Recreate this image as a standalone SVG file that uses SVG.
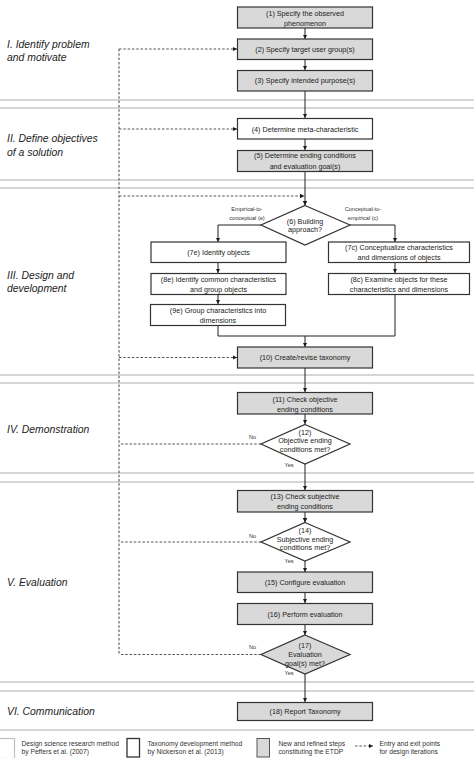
<svg xmlns="http://www.w3.org/2000/svg" width="474" height="758" viewBox="0 0 474 758">
<defs>
<marker id="ah" viewBox="0 0 10 10" refX="10" refY="5" markerWidth="4.5" markerHeight="4.5" orient="auto" markerUnits="userSpaceOnUse"><path d="M0,0 L10,5 L0,10 z" fill="#1a1a1a"/></marker>
<style>
.sep{stroke:#c8c8c8;stroke-width:1.3;fill:none}
.g{fill:#d9d9d9;stroke:#333;stroke-width:1.2}
.w{fill:#ffffff;stroke:#333;stroke-width:1.2}
.t{font-family:"Liberation Sans",Arial,sans-serif;font-size:7.2px;fill:#222;text-anchor:middle}
.s{font-family:"Liberation Sans",Arial,sans-serif;font-size:5.6px;fill:#333;text-anchor:middle}
.lab{font-family:"Liberation Sans",Arial,sans-serif;font-size:10.4px;font-style:italic;fill:#222}
.lg{font-family:"Liberation Sans",Arial,sans-serif;font-size:6.7px;fill:#333}
.c{stroke:#222;stroke-width:1;fill:none}
.d{stroke:#555;stroke-width:1.1;stroke-dasharray:2.5,1.8;fill:none}
</style>
</defs>
<rect x="0" y="0" width="474" height="758" fill="#ffffff"/>
<g id="separators">
<line class="sep" x1="0" y1="100" x2="474" y2="100"/><line class="sep" x1="0" y1="108" x2="474" y2="108"/>
<line class="sep" x1="0" y1="180" x2="474" y2="180"/><line class="sep" x1="0" y1="188" x2="474" y2="188"/>
<line class="sep" x1="0" y1="375" x2="474" y2="375"/><line class="sep" x1="0" y1="383" x2="474" y2="383"/>
<line class="sep" x1="0" y1="473" x2="474" y2="473"/><line class="sep" x1="0" y1="482" x2="474" y2="482"/>
<line class="sep" x1="0" y1="682" x2="474" y2="682"/><line class="sep" x1="0" y1="691" x2="474" y2="691"/>
<line class="sep" x1="0" y1="730" x2="474" y2="730"/>
</g>
<g id="phase-labels">
<text class="lab" x="7" y="48">I. Identify problem</text><text class="lab" x="7" y="61">and motivate</text>
<text class="lab" x="7" y="142">II. Define objectives</text><text class="lab" x="7" y="155.5">of a solution</text>
<text class="lab" x="7" y="278.5">III. Design and</text><text class="lab" x="7" y="292">development</text>
<text class="lab" x="7" y="432.5">IV. Demonstration</text>
<text class="lab" x="7" y="586">V. Evaluation</text>
<text class="lab" x="7" y="715">VI. Communication</text>
</g>
<g id="connectors">
<line class="c" x1="305" y1="28" x2="305" y2="39" marker-end="url(#ah)"/>
<line class="c" x1="305" y1="59" x2="305" y2="70" marker-end="url(#ah)"/>
<line class="c" x1="305" y1="91" x2="305" y2="118" marker-end="url(#ah)"/>
<line class="c" x1="305" y1="139" x2="305" y2="150" marker-end="url(#ah)"/>
<line class="c" x1="305" y1="171.5" x2="305" y2="205.5" marker-end="url(#ah)"/>
<polyline class="c" points="261,225 218,225 218,242" marker-end="url(#ah)"/>
<polyline class="c" points="350,225 395,225 395,242" marker-end="url(#ah)"/>
<line class="c" x1="218" y1="262.5" x2="218" y2="273" marker-end="url(#ah)"/>
<line class="c" x1="218" y1="294.5" x2="218" y2="304" marker-end="url(#ah)"/>
<line class="c" x1="395" y1="262.5" x2="395" y2="273" marker-end="url(#ah)"/>
<polyline class="c" points="218,325.5 218,336 395,336 395,294.5"/>
<line class="c" x1="305" y1="336" x2="305" y2="347" marker-end="url(#ah)"/>
<line class="c" x1="305" y1="368" x2="305" y2="392" marker-end="url(#ah)"/>
<line class="c" x1="305" y1="414" x2="305" y2="424" marker-end="url(#ah)"/>
<line class="c" x1="305" y1="464" x2="305" y2="490" marker-end="url(#ah)"/>
<line class="c" x1="305" y1="512" x2="305" y2="522.5" marker-end="url(#ah)"/>
<line class="c" x1="305" y1="561" x2="305" y2="572" marker-end="url(#ah)"/>
<line class="c" x1="305" y1="592.5" x2="305" y2="603" marker-end="url(#ah)"/>
<line class="c" x1="305" y1="624.5" x2="305" y2="635" marker-end="url(#ah)"/>
<line class="c" x1="305" y1="674" x2="305" y2="702" marker-end="url(#ah)"/>
<line class="d" x1="119" y1="49" x2="119" y2="654.5"/>
<line class="d" x1="119" y1="49" x2="237" y2="49" marker-end="url(#ah)"/>
<line class="d" x1="119" y1="129" x2="237" y2="129" marker-end="url(#ah)"/>
<line class="d" x1="119" y1="196" x2="304.5" y2="196" marker-end="url(#ah)"/>
<line class="d" x1="119" y1="357.5" x2="237" y2="357.5" marker-end="url(#ah)"/>
<line class="d" x1="261" y1="444" x2="119" y2="444"/>
<line class="d" x1="261" y1="542" x2="119" y2="542"/>
<line class="d" x1="261" y1="654.5" x2="119" y2="654.5"/>
<text class="s" x="247" y="211">Empirical-to-</text><text class="s" x="247" y="220">conceptual (e)</text>
<text class="s" x="363" y="211">Conceptual-to-</text><text class="s" x="363" y="220">empirical (c)</text>
<text class="s" x="252.5" y="439">No</text><text class="s" x="289" y="467">Yes</text>
<text class="s" x="252.5" y="538">No</text><text class="s" x="289" y="563">Yes</text>
<text class="s" x="252.5" y="649">No</text><text class="s" x="289" y="674.5">Yes</text>
</g>
<g id="n1"><rect class="g" x="237.5" y="7" width="135" height="21"/><text class="t" x="305" y="15.8">(1) Specify the observed</text><text class="t" x="305" y="25.8">phenomenon</text></g>
<g id="n2"><rect class="g" x="237.5" y="39" width="135" height="20.5"/><text class="t" x="305" y="51.8">(2) Specify target user group(s)</text></g>
<g id="n3"><rect class="g" x="237.5" y="70.5" width="135" height="20.5"/><text class="t" x="305" y="83.3">(3) Specify intended purpose(s)</text></g>
<g id="n4"><rect class="w" x="237.5" y="118.5" width="135" height="20.5"/><text class="t" x="305" y="131.5">(4) Determine meta-characteristic</text></g>
<g id="n5"><rect class="g" x="237.5" y="150.5" width="135" height="21"/><text class="t" x="305" y="158.3">(5) Determine ending conditions</text><text class="t" x="305" y="168.5">and evaluation goal(s)</text></g>
<g id="n6"><polygon class="w" points="305,205.5 350,225 305,245 261,225"/><text class="t" x="305" y="224">(6) Building</text><text class="t" x="305" y="232">approach?</text></g>
<g id="n7e"><rect class="w" x="151" y="242" width="135" height="20.5"/><text class="t" x="218.5" y="255">(7e) Identify objects</text></g>
<g id="n8e"><rect class="w" x="151" y="273.5" width="135" height="21"/><text class="t" x="218.5" y="281.5">(8e) Identify common characteristics</text><text class="t" x="218.5" y="291.5">and group objects</text></g>
<g id="n9e"><rect class="w" x="150.5" y="304.5" width="135" height="21"/><text class="t" x="218" y="313">(9e) Group characteristics into</text><text class="t" x="218" y="323">dimensions</text></g>
<g id="n7c"><rect class="w" x="328.5" y="242" width="141" height="20.5"/><text class="t" x="399" y="250">(7c) Conceptualize characteristics</text><text class="t" x="399" y="259.5">and dimensions of objects</text></g>
<g id="n8c"><rect class="w" x="328.5" y="273.5" width="141" height="21"/><text class="t" x="399" y="281.5">(8c) Examine objects for these</text><text class="t" x="399" y="291.5">characteristics and dimensions</text></g>
<g id="n10"><rect class="g" x="237.5" y="347" width="135" height="21"/><text class="t" x="305" y="360">(10) Create/revise taxonomy</text></g>
<g id="n11"><rect class="g" x="237.5" y="392.5" width="135" height="21.5"/><text class="t" x="305" y="402">(11) Check objective</text><text class="t" x="305" y="411.7">ending conditions</text></g>
<g id="n12"><polygon class="w" points="305,424.5 350,444 305,464 261,444"/><text class="t" x="305" y="434.5">(12)</text><text class="t" x="305" y="443">Objective ending</text><text class="t" x="305" y="451.5">conditions met?</text></g>
<g id="n13"><rect class="g" x="237.5" y="490.5" width="135" height="21.5"/><text class="t" x="305" y="499.3">(13) Check subjective</text><text class="t" x="305" y="509.3">ending conditions</text></g>
<g id="n14"><polygon class="w" points="305,522.5 350,542 305,561 261,542"/><text class="t" x="305" y="533">(14)</text><text class="t" x="305" y="541.5">Subjective ending</text><text class="t" x="305" y="550">conditions met?</text></g>
<g id="n15"><rect class="g" x="237.5" y="572" width="135" height="20.5"/><text class="t" x="305" y="584.7">(15) Configure evaluation</text></g>
<g id="n16"><rect class="g" x="237.5" y="603.5" width="135" height="21"/><text class="t" x="305" y="616.5">(16) Perform evaluation</text></g>
<g id="n17"><polygon class="g" points="305,635 350,654.5 305,674 261,654.5"/><text class="t" x="305" y="648">(17)</text><text class="t" x="305" y="657">Evaluation</text><text class="t" x="305" y="665.5">goal(s) met?</text></g>
<g id="n18"><rect class="g" x="237.5" y="702.5" width="135" height="18"/><text class="t" x="305" y="714.3">(18) Report Taxonomy</text></g>
<g id="legend">
<rect x="-1" y="738.5" width="15.5" height="20" fill="#fff" stroke="#c0c0c0" stroke-width="1.2"/>
<text class="lg" x="21.5" y="746">Design science research method</text><text class="lg" x="21.5" y="754">by Peffers et al. (2007)</text>
<rect x="127" y="738.5" width="12.5" height="18.5" fill="#fff" stroke="#333" stroke-width="1.3"/>
<text class="lg" x="147.5" y="746">Taxonomy development method</text><text class="lg" x="147.5" y="754">by Nickerson et al. (2013)</text>
<rect x="257" y="738.5" width="12.5" height="18.5" fill="#d9d9d9" stroke="#555" stroke-width="1"/>
<text class="lg" x="278.5" y="746">New and refined steps</text><text class="lg" x="278.5" y="754">constituting the ETDP</text>
<line class="d" x1="355" y1="746" x2="373" y2="746" marker-end="url(#ah)"/>
<text class="lg" x="379.5" y="746">Entry and exit points</text><text class="lg" x="379.5" y="754">for design iterations</text>
</g>
</svg>
